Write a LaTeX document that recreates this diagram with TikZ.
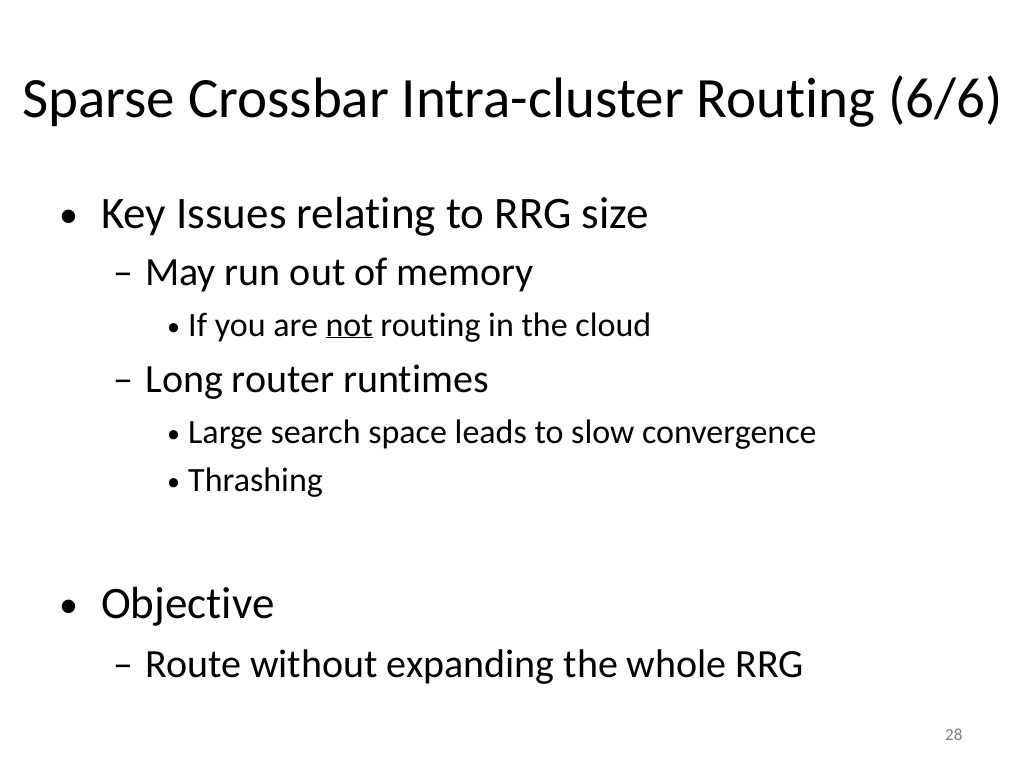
\documentclass[tikz,border=0pt]{standalone}
\usepackage{fontspec}
\setmainfont{Carlito}[RawFeature={-liga}]
\tikzset{
  txt/.style={anchor=base west, inner sep=0pt},
  title/.style={txt, font=\fontsize{57}{64}\selectfont},
  lone/.style={txt, font=\fontsize{45}{50}\selectfont},
  ltwo/.style={txt, font=\fontsize{40}{46}\selectfont},
  lthree/.style={txt, font=\fontsize{34}{40}\selectfont},
  dot/.style={txt, font=\fontsize{38}{42}\selectfont}
}
\begin{document}
\begin{tikzpicture}[x=1pt,y=-1pt]
\useasboundingbox[fill=white] (0,0) rectangle (1024,768);

% title
\node[title] (head) at (22,117) {Sparse Crossbar Intra-cluster Routing (6/6)};

% first block
\node[dot] (b1) at (59,227) {•};
\node[lone] (keyissues) at (101,228) {Key Issues relating to RRG size};
\node[ltwo] (d1) at (113,285) {–};
\node[ltwo] (memory) at (145,285) {May run out of memory};
\node[dot, font=\fontsize{26}{30}\selectfont] (b2) at (167,335) {•};
\node[lthree] (cloud) at (188,336) {If you are \underline{not} routing in the cloud};
\node[ltwo] (d2) at (113,392) {–};
\node[ltwo] (runtime) at (145,392) {Long router runtimes};
\node[dot, font=\fontsize{26}{30}\selectfont] (b3) at (167,442) {•};
\node[lthree] (search) at (188,443) {Large search space leads to slow convergence};
\node[dot, font=\fontsize{26}{30}\selectfont] (b4) at (167,490) {•};
\node[lthree] (thrash) at (188,491) {Thrashing};

% second block
\node[dot] (b5) at (59,617) {•};
\node[lone] (objective) at (101,618) {Objective};
\node[ltwo] (d3) at (113,677) {–};
\node[ltwo] (route) at (145,677) {Route without expanding the whole RRG};

% page number
\node[txt, font=\fontsize{17}{20}\selectfont, text=gray] (pagenum) at (945,740) {28};
\end{tikzpicture}
\end{document}
